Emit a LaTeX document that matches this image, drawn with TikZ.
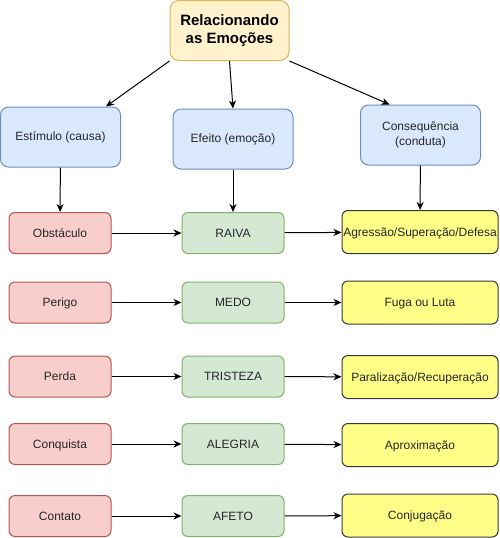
\documentclass[tikz,border=0pt]{standalone}
\usepackage{fontspec}
\setmainfont{Liberation Sans}
\usetikzlibrary{arrows.meta}

\definecolor{titlefill}{HTML}{FFF2CC}
\definecolor{titleline}{HTML}{D6B656}
\definecolor{headfill}{HTML}{DAE8FC}
\definecolor{headline}{HTML}{6C8EBF}
\definecolor{causefill}{HTML}{F8CECC}
\definecolor{causeline}{HTML}{B85450}
\definecolor{emofill}{HTML}{D5E8D4}
\definecolor{emoline}{HTML}{82B366}
\definecolor{actfill}{HTML}{FFFF88}
\definecolor{actline}{HTML}{36393D}

\begin{document}
\begin{tikzpicture}[x=1pt,y=-1pt,
    box/.style={draw, rounded corners=6pt, line width=1pt, align=center, inner sep=0pt,
        text=black!85, font=\fontsize{12}{15}\selectfont},
    titlebox/.style={box, fill=titlefill, draw=titleline, rounded corners=9pt, text=black,
        minimum width=119pt, minimum height=60pt, font=\fontsize{15}{18}\selectfont\bfseries},
    headbox/.style={box, fill=headfill, draw=headline, rounded corners=8pt,
        minimum width=120pt, minimum height=60pt},
    rowbox/.style={box, text height=8.6pt, text depth=0pt},
    causebox/.style={rowbox, fill=causefill, draw=causeline, minimum width=102pt, minimum height=41pt},
    emobox/.style={rowbox, fill=emofill, draw=emoline, minimum width=102pt, minimum height=41pt},
    actbox/.style={rowbox, fill=actfill, draw=actline, minimum width=156pt, minimum height=43pt},
    link/.style={->, line width=1pt, >={Stealth[length=8pt,width=7pt,inset=2.5pt]}}]

    \useasboundingbox (0,0) rectangle (499,538);

    % top and headings
    \node[titlebox] (rel) at (229.5,30.5) {Relacionando\\as Emoções};
    \node[headbox] (estimulo) at (60.5,137) {Estímulo (causa)};
    \node[headbox] (efeito) at (233,139) {Efeito (emoção)};
    \node[headbox] (conseq) at (420.5,135) {Consequência\\(conduta)};

    % rows
    \node[causebox] (obstaculo) at (60,233) {Obstáculo};
    \node[emobox] (raiva) at (233,233) {RAIVA};
    \node[actbox] (agressao) at (420,232) {Agressão/Superação/Defesa};

    \node[causebox] (perigo) at (60,302.5) {Perigo};
    \node[emobox] (medo) at (233,302.5) {MEDO};
    \node[actbox] (fuga) at (420,302.5) {Fuga ou Luta};

    \node[causebox] (perda) at (60,376.5) {Perda};
    \node[emobox] (tristeza) at (233,376.5) {TRISTEZA};
    \node[actbox] (paralizacao) at (420,377) {Paralização/Recuperação};

    \node[causebox] (conquista) at (60,444) {Conquista};
    \node[emobox] (alegria) at (233,444) {ALEGRIA};
    \node[actbox] (aproximacao) at (420,445) {Aproximação};

    \node[causebox] (contato) at (60,516) {Contato};
    \node[emobox] (afeto) at (233,516) {AFETO};
    \node[actbox] (conjugacao) at (420,515.5) {Conjugação};

    \draw[link] (rel.south west) -- ([xshift=-15pt]estimulo.north east);
    \draw[link] (rel.south) -- (efeito.north);
    \draw[link] (rel.south east) -- ([xshift=-31pt]conseq.north);

    \draw[link] (estimulo) -- (obstaculo);
    \draw[link] (efeito) -- (raiva);
    \draw[link] (conseq) -- (agressao);

    \draw[link] (obstaculo) -- (raiva);
    \draw[link] (raiva) -- (agressao);
    \draw[link] (perigo) -- (medo);
    \draw[link] (medo) -- (fuga);
    \draw[link] (perda) -- (tristeza);
    \draw[link] (tristeza) -- (paralizacao);
    \draw[link] (conquista) -- (alegria);
    \draw[link] (alegria) -- (aproximacao);
    \draw[link] (contato) -- (afeto);
    \draw[link] (afeto) -- (conjugacao);

\end{tikzpicture}
\end{document}
